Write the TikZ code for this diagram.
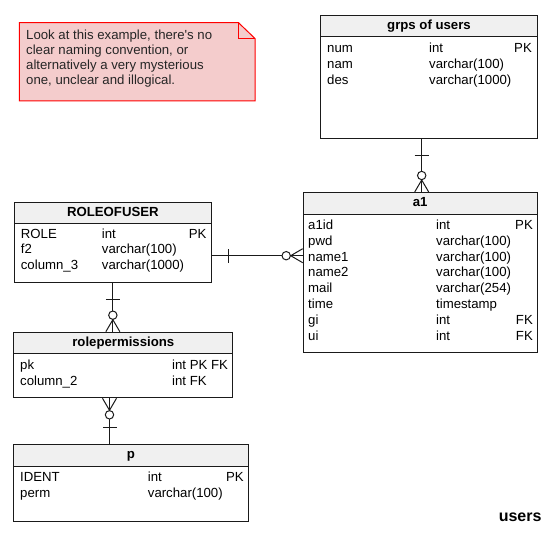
\documentclass[tikz,border=0pt]{standalone}
\usepackage{fontspec}
\setmainfont{Liberation Sans}
\usetikzlibrary{calc,decorations.markings}

\definecolor{notefill}{HTML}{F4CCCC}
\definecolor{notered}{HTML}{FF0000}
\definecolor{hdrgray}{HTML}{F0F0F0}
\definecolor{linegray}{HTML}{1A1A1A}

\tikzset{
  tbl/.style={draw=linegray, line width=1pt, anchor=north west, inner sep=0},
  hdr/.style={draw=linegray, fill=hdrgray, line width=1pt, anchor=north, inner sep=0,
    minimum height=21.5pt, text height=9.5pt, text depth=2.7pt,
    font=\bfseries\fontsize{13.2}{15.8}\selectfont},
  cell/.style={anchor=base west, inner sep=0, font=\fontsize{13.2}{15.8}\selectfont},
  key/.style={cell, anchor=base east},
  relmark/.style={draw=linegray, line width=1pt},
  rel/.style={draw=linegray, line width=1pt, postaction=decorate,
    decoration={markings,
      mark=at position 16.5pt with {\draw[relmark] (0,-7pt) -- (0,7pt);},
      mark=at position -16.5pt with {\draw[relmark, fill=white] (0,0) circle (4.2pt);},
      mark=at position -12pt with {\draw[relmark] (12pt,7pt) -- (0,0) -- (12pt,-7pt);}}}
}

\begin{document}
\begin{tikzpicture}[x=1pt, y=-1pt]
  \useasboundingbox (0,0) rectangle (552,535);

  % note
  \draw[fill=notefill, draw=notered, line width=1pt] (19.3,22.7) -- (238.5,22.7) -- (255,38.5) -- (255,101) -- (19.3,101) -- cycle;
  \draw[draw=notered, line width=1pt] (238.5,22.7) -- (238.5,38.5) -- (255,38.5);
  \node[anchor=north west, inner sep=0, align=left, text=black!85,
    font=\fontsize{13.2}{15.3}\selectfont] (note) at (26,29.3)
    {Look at this example, there\textquotesingle s no\\clear naming convention, or\\alternatively a very mysterious\\one, unclear and illogical.};

  % grps of users
  \node[tbl, minimum width=217pt, minimum height=122.5pt] (grps) at (320,15) {};
  \node[hdr, minimum width=217pt] (grps-h) at (grps.north) {grps of users};
  \foreach \n/\t/\k [count=\i] in {num/int/PK, nam/varchar(100)/, des/varchar(1000)/} {
    \node[cell] (grps-n\i) at (327, {52.5+15.8*(\i-1)}) {\n};
    \node[cell] (grps-t\i) at (429, {52.5+15.8*(\i-1)}) {\t};
    \node[key] (grps-k\i) at (532, {52.5+15.8*(\i-1)}) {\k};
  }

  % a1
  \node[tbl, minimum width=234pt, minimum height=160pt] (a1) at (302.7,192) {};
  \node[hdr, minimum width=234pt] (a1-h) at (a1.north) {a1};
  \foreach \n/\t/\k [count=\i] in {a1id/int/PK, pwd/varchar(100)/, name1/varchar(100)/,
      name2/varchar(100)/, mail/varchar(254)/, time/timestamp/, gi/int/FK, ui/int/FK} {
    \node[cell] (a1-n\i) at (308, {229.5+15.8*(\i-1)}) {\n};
    \node[cell] (a1-t\i) at (436, {229.5+15.8*(\i-1)}) {\t};
    \node[key] (a1-k\i) at (533, {229.5+15.8*(\i-1)}) {\k};
  }

  % ROLEOFUSER
  \node[tbl, minimum width=196.7pt, minimum height=80pt] (roleofuser) at (14,201.7) {};
  \node[hdr, minimum width=196.7pt] (roleofuser-h) at (roleofuser.north) {ROLEOFUSER};
  \foreach \n/\t/\k [count=\i] in {ROLE/int/PK, f2/varchar(100)/, column\_3/varchar(1000)/} {
    \node[cell] (roleofuser-n\i) at (20.7, {238+15.8*(\i-1)}) {\n};
    \node[cell] (roleofuser-t\i) at (101.7, {238+15.8*(\i-1)}) {\t};
    \node[key] (roleofuser-k\i) at (206.7, {238+15.8*(\i-1)}) {\k};
  }

  % rolepermissions
  \node[tbl, minimum width=219pt, minimum height=65.6pt] (rp) at (13.3,331.7) {};
  \node[hdr, minimum width=219pt] (rp-h) at (rp.north) {rolepermissions};
  \foreach \n/\t [count=\i] in {pk/int PK FK, column\_2/int FK} {
    \node[cell] (rp-n\i) at (20, {369.3+16*(\i-1)}) {\n};
    \node[cell] (rp-t\i) at (172, {369.3+16*(\i-1)}) {\t};
  }

  % p
  \node[tbl, minimum width=234.4pt, minimum height=76.7pt] (p) at (13.3,444) {};
  \node[hdr, minimum width=234.4pt] (p-h) at (p.north) {p};
  \foreach \n/\t/\k [count=\i] in {IDENT/int/PK, perm/varchar(100)/} {
    \node[cell] (p-n\i) at (20, {481+16*(\i-1)}) {\n};
    \node[cell] (p-t\i) at (147.7, {481+16*(\i-1)}) {\t};
    \node[key] (p-k\i) at (244, {481+16*(\i-1)}) {\k};
  }

  % relations
  \coordinate (ga) at (421.7,0);
  \coordinate (ra) at (0,255.7);
  \coordinate (pr) at (109.5,0);
  \draw[rel] (grps.south -| ga) -- (a1.north -| ga);
  \draw[rel] (roleofuser.east |- ra) -- (a1.west |- ra);
  \draw[rel] (roleofuser.south) -- (rp.north -| roleofuser.south);
  \draw[rel] (p.north -| pr) -- (rp.south -| pr);

  \node[anchor=base east, inner sep=0, font=\bfseries\fontsize{16}{19}\selectfont] (title) at (541.7,521) {users};
\end{tikzpicture}
\end{document}
